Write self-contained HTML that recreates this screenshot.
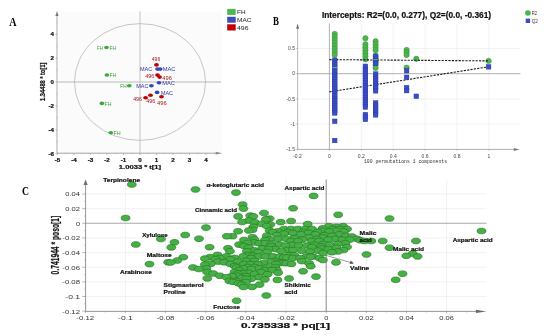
<!DOCTYPE html>
<html><head><meta charset="utf-8"><style>
html,body{margin:0;padding:0;background:#fff;}
body{width:550px;height:336px;overflow:hidden;font-family:"Liberation Sans", sans-serif;}
svg{display:block;filter:blur(0.3px);}
</style></head><body>
<svg width="550" height="336" viewBox="0 0 550 336">
<rect width="550" height="336" fill="#fff"/>
<rect x="59" y="11.5" width="163" height="142" fill="#fbfbfb"/>
<line x1="140.0" y1="11.5" x2="140.0" y2="153" stroke="#cfcfcf" stroke-width="1.3"/>
<line x1="57.5" y1="82.0" x2="221" y2="82.0" stroke="#cfcfcf" stroke-width="1.3"/>
<ellipse cx="140.0" cy="82.0" rx="65.5" ry="58.4" fill="none" stroke="#b8b8b8" stroke-width="0.8"/>
<line x1="57.0" y1="15" x2="57.0" y2="153.6" stroke="#a0a0a0" stroke-width="0.9"/>
<path d="M55.4 16.0 L57.0 11.0 L58.6 16.0 Z" fill="#777"/>
<line x1="57" y1="153.2" x2="217" y2="153.2" stroke="#9a9a9a" stroke-width="0.9"/>
<path d="M215.7 151.8 L222.2 153.2 L215.7 154.6 Z" fill="#8a8a8a"/>
<line x1="55.5" y1="34.2" x2="57.3" y2="34.2" stroke="#999" stroke-width="0.6"/>
<text x="54.0" y="36.4" font-size="6.2" font-weight="bold" fill="#111" text-anchor="end" font-family='"Liberation Sans", sans-serif' stroke="#111" stroke-width="0.22">4</text>
<line x1="55.5" y1="58.1" x2="57.3" y2="58.1" stroke="#999" stroke-width="0.6"/>
<text x="54.0" y="60.3" font-size="6.2" font-weight="bold" fill="#111" text-anchor="end" font-family='"Liberation Sans", sans-serif' stroke="#111" stroke-width="0.22">2</text>
<line x1="55.5" y1="82.0" x2="57.3" y2="82.0" stroke="#999" stroke-width="0.6"/>
<text x="54.0" y="84.2" font-size="6.2" font-weight="bold" fill="#111" text-anchor="end" font-family='"Liberation Sans", sans-serif' stroke="#111" stroke-width="0.22">0</text>
<line x1="55.5" y1="105.9" x2="57.3" y2="105.9" stroke="#999" stroke-width="0.6"/>
<text x="54.0" y="108.1" font-size="6.2" font-weight="bold" fill="#111" text-anchor="end" font-family='"Liberation Sans", sans-serif' stroke="#111" stroke-width="0.22">-2</text>
<line x1="55.5" y1="129.8" x2="57.3" y2="129.8" stroke="#999" stroke-width="0.6"/>
<text x="54.0" y="132.0" font-size="6.2" font-weight="bold" fill="#111" text-anchor="end" font-family='"Liberation Sans", sans-serif' stroke="#111" stroke-width="0.22">-4</text>
<line x1="55.5" y1="153.7" x2="57.3" y2="153.7" stroke="#999" stroke-width="0.6"/>
<text x="54.0" y="155.9" font-size="6.2" font-weight="bold" fill="#111" text-anchor="end" font-family='"Liberation Sans", sans-serif' stroke="#111" stroke-width="0.22">-6</text>
<line x1="56" y1="22.25" x2="57.3" y2="22.25" stroke="#aaa" stroke-width="0.5"/>
<line x1="56" y1="46.15" x2="57.3" y2="46.15" stroke="#aaa" stroke-width="0.5"/>
<line x1="56" y1="70.05" x2="57.3" y2="70.05" stroke="#aaa" stroke-width="0.5"/>
<line x1="56" y1="93.95" x2="57.3" y2="93.95" stroke="#aaa" stroke-width="0.5"/>
<line x1="56" y1="117.85" x2="57.3" y2="117.85" stroke="#aaa" stroke-width="0.5"/>
<line x1="56" y1="141.75" x2="57.3" y2="141.75" stroke="#aaa" stroke-width="0.5"/>
<line x1="57.5" y1="153.4" x2="57.5" y2="155" stroke="#999" stroke-width="0.6"/>
<text x="57.5" y="162.3" font-size="6.2" font-weight="bold" fill="#111" text-anchor="middle" font-family='"Liberation Sans", sans-serif' stroke="#111" stroke-width="0.22">-5</text>
<line x1="74.0" y1="153.4" x2="74.0" y2="155" stroke="#999" stroke-width="0.6"/>
<text x="74.0" y="162.3" font-size="6.2" font-weight="bold" fill="#111" text-anchor="middle" font-family='"Liberation Sans", sans-serif' stroke="#111" stroke-width="0.22">-4</text>
<line x1="90.5" y1="153.4" x2="90.5" y2="155" stroke="#999" stroke-width="0.6"/>
<text x="90.5" y="162.3" font-size="6.2" font-weight="bold" fill="#111" text-anchor="middle" font-family='"Liberation Sans", sans-serif' stroke="#111" stroke-width="0.22">-3</text>
<line x1="107.0" y1="153.4" x2="107.0" y2="155" stroke="#999" stroke-width="0.6"/>
<text x="107.0" y="162.3" font-size="6.2" font-weight="bold" fill="#111" text-anchor="middle" font-family='"Liberation Sans", sans-serif' stroke="#111" stroke-width="0.22">-2</text>
<line x1="123.5" y1="153.4" x2="123.5" y2="155" stroke="#999" stroke-width="0.6"/>
<text x="123.5" y="162.3" font-size="6.2" font-weight="bold" fill="#111" text-anchor="middle" font-family='"Liberation Sans", sans-serif' stroke="#111" stroke-width="0.22">-1</text>
<line x1="140.0" y1="153.4" x2="140.0" y2="155" stroke="#999" stroke-width="0.6"/>
<text x="140.0" y="162.3" font-size="6.2" font-weight="bold" fill="#111" text-anchor="middle" font-family='"Liberation Sans", sans-serif' stroke="#111" stroke-width="0.22">0</text>
<line x1="156.5" y1="153.4" x2="156.5" y2="155" stroke="#999" stroke-width="0.6"/>
<text x="156.5" y="162.3" font-size="6.2" font-weight="bold" fill="#111" text-anchor="middle" font-family='"Liberation Sans", sans-serif' stroke="#111" stroke-width="0.22">1</text>
<line x1="173.0" y1="153.4" x2="173.0" y2="155" stroke="#999" stroke-width="0.6"/>
<text x="173.0" y="162.3" font-size="6.2" font-weight="bold" fill="#111" text-anchor="middle" font-family='"Liberation Sans", sans-serif' stroke="#111" stroke-width="0.22">2</text>
<line x1="189.5" y1="153.4" x2="189.5" y2="155" stroke="#999" stroke-width="0.6"/>
<text x="189.5" y="162.3" font-size="6.2" font-weight="bold" fill="#111" text-anchor="middle" font-family='"Liberation Sans", sans-serif' stroke="#111" stroke-width="0.22">3</text>
<line x1="206.0" y1="153.4" x2="206.0" y2="155" stroke="#999" stroke-width="0.6"/>
<text x="206.0" y="162.3" font-size="6.2" font-weight="bold" fill="#111" text-anchor="middle" font-family='"Liberation Sans", sans-serif' stroke="#111" stroke-width="0.22">4</text>
<line x1="65.75" y1="153.4" x2="65.75" y2="154.5" stroke="#aaa" stroke-width="0.5"/>
<line x1="82.25" y1="153.4" x2="82.25" y2="154.5" stroke="#aaa" stroke-width="0.5"/>
<line x1="98.75" y1="153.4" x2="98.75" y2="154.5" stroke="#aaa" stroke-width="0.5"/>
<line x1="115.25" y1="153.4" x2="115.25" y2="154.5" stroke="#aaa" stroke-width="0.5"/>
<line x1="131.75" y1="153.4" x2="131.75" y2="154.5" stroke="#aaa" stroke-width="0.5"/>
<line x1="148.25" y1="153.4" x2="148.25" y2="154.5" stroke="#aaa" stroke-width="0.5"/>
<line x1="164.75" y1="153.4" x2="164.75" y2="154.5" stroke="#aaa" stroke-width="0.5"/>
<line x1="181.25" y1="153.4" x2="181.25" y2="154.5" stroke="#aaa" stroke-width="0.5"/>
<line x1="197.75" y1="153.4" x2="197.75" y2="154.5" stroke="#aaa" stroke-width="0.5"/>
<line x1="214.25" y1="153.4" x2="214.25" y2="154.5" stroke="#aaa" stroke-width="0.5"/>
<text x="140" y="169.2" font-size="5.8" font-weight="bold" fill="#111" text-anchor="middle" font-family='"Liberation Sans", sans-serif' textLength="42.3" lengthAdjust="spacingAndGlyphs" stroke="#111" stroke-width="0.22">1.0033 * t[1]</text>
<text x="44.8" y="81.7" font-size="6.8" font-weight="bold" fill="#111" text-anchor="middle" font-family='"Liberation Sans", sans-serif' textLength="38.4" lengthAdjust="spacingAndGlyphs" transform="rotate(-90 44.8 81.7)" stroke="#111" stroke-width="0.22">1.34488 * to[1]</text>
<ellipse cx="106.50" cy="47.50" rx="2.4" ry="1.8" fill="#3daa3d"/>
<text x="102.8" y="49.7" font-size="5.2" font-weight="normal" fill="#3a9a3a" text-anchor="end" font-family='"Liberation Sans", sans-serif' textLength="5.8" lengthAdjust="spacingAndGlyphs">FH</text>
<text x="109.6" y="49.7" font-size="5.2" font-weight="normal" fill="#3a9a3a" text-anchor="start" font-family='"Liberation Sans", sans-serif' textLength="6.6" lengthAdjust="spacingAndGlyphs">FH</text>
<ellipse cx="106.90" cy="75.00" rx="2.4" ry="1.8" fill="#3daa3d"/>
<text x="109.8" y="77.2" font-size="5.2" font-weight="normal" fill="#3a9a3a" text-anchor="start" font-family='"Liberation Sans", sans-serif' textLength="6.3" lengthAdjust="spacingAndGlyphs">FH</text>
<ellipse cx="129.30" cy="85.70" rx="2.4" ry="1.8" fill="#3daa3d"/>
<text x="126.6" y="87.9" font-size="5.2" font-weight="normal" fill="#3a9a3a" text-anchor="end" font-family='"Liberation Sans", sans-serif' textLength="6.3" lengthAdjust="spacingAndGlyphs">FH</text>
<ellipse cx="101.90" cy="103.40" rx="2.4" ry="1.8" fill="#3daa3d"/>
<text x="104.6" y="105.6" font-size="5.2" font-weight="normal" fill="#3a9a3a" text-anchor="start" font-family='"Liberation Sans", sans-serif' textLength="6.9" lengthAdjust="spacingAndGlyphs">FH</text>
<ellipse cx="110.80" cy="132.70" rx="2.4" ry="1.8" fill="#3daa3d"/>
<text x="113.5" y="134.9" font-size="5.2" font-weight="normal" fill="#3a9a3a" text-anchor="start" font-family='"Liberation Sans", sans-serif' textLength="7.2" lengthAdjust="spacingAndGlyphs">FH</text>
<ellipse cx="156.50" cy="64.90" rx="2.4" ry="1.8" fill="#c00000"/>
<text x="156" y="61.3" font-size="5.2" font-weight="normal" fill="#a01818" text-anchor="middle" font-family='"Liberation Sans", sans-serif' textLength="8.4" lengthAdjust="spacingAndGlyphs">496</text>
<ellipse cx="157.50" cy="69.10" rx="2.4" ry="1.8" fill="#3347b8"/>
<ellipse cx="160.20" cy="69.10" rx="2.4" ry="1.8" fill="#3347b8"/>
<text x="152.3" y="71.3" font-size="5.2" font-weight="normal" fill="#2b3a9a" text-anchor="end" font-family='"Liberation Sans", sans-serif' textLength="12.3" lengthAdjust="spacingAndGlyphs">MAC</text>
<text x="162.7" y="71.3" font-size="5.2" font-weight="normal" fill="#2b3a9a" text-anchor="start" font-family='"Liberation Sans", sans-serif' textLength="12.8" lengthAdjust="spacingAndGlyphs">MAC</text>
<ellipse cx="157.50" cy="75.10" rx="2.4" ry="1.8" fill="#c00000"/>
<ellipse cx="159.60" cy="77.10" rx="2.4" ry="1.8" fill="#c00000"/>
<text x="154.3" y="78.0" font-size="5.2" font-weight="normal" fill="#a01818" text-anchor="end" font-family='"Liberation Sans", sans-serif' textLength="9.0" lengthAdjust="spacingAndGlyphs">496</text>
<text x="162.3" y="79.7" font-size="5.2" font-weight="normal" fill="#a01818" text-anchor="start" font-family='"Liberation Sans", sans-serif' textLength="9.5" lengthAdjust="spacingAndGlyphs">496</text>
<ellipse cx="159.00" cy="82.70" rx="2.4" ry="1.8" fill="#3347b8"/>
<text x="162.2" y="85.0" font-size="5.2" font-weight="normal" fill="#2b3a9a" text-anchor="start" font-family='"Liberation Sans", sans-serif' textLength="12.7" lengthAdjust="spacingAndGlyphs">MAC</text>
<ellipse cx="151.40" cy="85.70" rx="2.4" ry="1.8" fill="#3347b8"/>
<text x="148.4" y="87.9" font-size="5.2" font-weight="normal" fill="#2b3a9a" text-anchor="end" font-family='"Liberation Sans", sans-serif' textLength="12.2" lengthAdjust="spacingAndGlyphs">MAC</text>
<ellipse cx="157.10" cy="92.40" rx="2.4" ry="1.8" fill="#3347b8"/>
<text x="160.9" y="94.6" font-size="5.2" font-weight="normal" fill="#2b3a9a" text-anchor="start" font-family='"Liberation Sans", sans-serif' textLength="12.1" lengthAdjust="spacingAndGlyphs">MAC</text>
<ellipse cx="150.50" cy="95.20" rx="2.4" ry="1.8" fill="#c00000"/>
<ellipse cx="145.60" cy="97.80" rx="2.4" ry="1.8" fill="#c00000"/>
<text x="142" y="100.6" font-size="5.2" font-weight="normal" fill="#a01818" text-anchor="end" font-family='"Liberation Sans", sans-serif' textLength="8.8" lengthAdjust="spacingAndGlyphs">496</text>
<text x="150.7" y="103.1" font-size="5.2" font-weight="normal" fill="#a01818" text-anchor="middle" font-family='"Liberation Sans", sans-serif' textLength="8.9" lengthAdjust="spacingAndGlyphs">496</text>
<ellipse cx="161.50" cy="96.70" rx="2.4" ry="1.8" fill="#c00000"/>
<text x="161.8" y="104.7" font-size="5.2" font-weight="normal" fill="#a01818" text-anchor="middle" font-family='"Liberation Sans", sans-serif' textLength="9.6" lengthAdjust="spacingAndGlyphs">496</text>
<rect x="227.2" y="8.9" width="8.5" height="6.0" fill="#4bb84b"/>
<rect x="227.2" y="16.8" width="8.5" height="5.9" fill="#3a4cc0"/>
<rect x="227.2" y="24.3" width="8.5" height="6.2" fill="#c00000"/>
<text x="237" y="14.3" font-size="5.8" font-weight="normal" fill="#222" text-anchor="start" font-family='"Liberation Sans", sans-serif' textLength="8.5" lengthAdjust="spacingAndGlyphs">FH</text>
<text x="237" y="22.2" font-size="5.8" font-weight="normal" fill="#222" text-anchor="start" font-family='"Liberation Sans", sans-serif' textLength="14.5" lengthAdjust="spacingAndGlyphs">MAC</text>
<text x="237" y="29.8" font-size="5.8" font-weight="normal" fill="#222" text-anchor="start" font-family='"Liberation Sans", sans-serif' textLength="11.5" lengthAdjust="spacingAndGlyphs">496</text>
<text x="9.3" y="25.5" font-size="11.8" font-weight="bold" fill="#000" text-anchor="start" font-family='"Liberation Serif", serif' textLength="7.3" lengthAdjust="spacingAndGlyphs">A</text>
<line x1="361.3" y1="23.5" x2="361.3" y2="149.2" stroke="#ececec" stroke-width="0.7"/>
<line x1="393.2" y1="23.5" x2="393.2" y2="149.2" stroke="#ececec" stroke-width="0.7"/>
<line x1="425.1" y1="23.5" x2="425.1" y2="149.2" stroke="#ececec" stroke-width="0.7"/>
<line x1="457.0" y1="23.5" x2="457.0" y2="149.2" stroke="#ececec" stroke-width="0.7"/>
<line x1="488.9" y1="23.5" x2="488.9" y2="149.2" stroke="#ececec" stroke-width="0.7"/>
<line x1="297.5" y1="48.5" x2="520.5" y2="48.5" stroke="#ececec" stroke-width="0.7"/>
<line x1="297.5" y1="98.9" x2="520.5" y2="98.9" stroke="#ececec" stroke-width="0.7"/>
<line x1="297.5" y1="124.1" x2="520.5" y2="124.1" stroke="#ececec" stroke-width="0.7"/>
<line x1="329.4" y1="23.5" x2="329.4" y2="149.2" stroke="#a8a8a8" stroke-width="0.9"/>
<line x1="297.5" y1="73.7" x2="520.5" y2="73.7" stroke="#a8a8a8" stroke-width="0.9"/>
<line x1="297.6" y1="28" x2="297.6" y2="149.4" stroke="#a5a5a5" stroke-width="0.8"/>
<path d="M296.1 28.7 L297.6 23.4 L299.1 28.7 Z" fill="#6f6f6f"/>
<line x1="297.5" y1="149.4" x2="514" y2="149.4" stroke="#999" stroke-width="0.8"/>
<path d="M513.8 147.9 L519.6 149.4 L513.8 150.9 Z" fill="#7a7a7a"/>
<line x1="295.8" y1="48.5" x2="297.5" y2="48.5" stroke="#999" stroke-width="0.5"/>
<text x="295.0" y="50.2" font-size="5.0" font-weight="normal" fill="#444" text-anchor="end" font-family='"Liberation Sans", sans-serif'>0.5</text>
<line x1="295.8" y1="73.7" x2="297.5" y2="73.7" stroke="#999" stroke-width="0.5"/>
<text x="295.0" y="75.4" font-size="5.0" font-weight="normal" fill="#444" text-anchor="end" font-family='"Liberation Sans", sans-serif'>0</text>
<line x1="295.8" y1="98.9" x2="297.5" y2="98.9" stroke="#999" stroke-width="0.5"/>
<text x="295.0" y="100.6" font-size="5.0" font-weight="normal" fill="#444" text-anchor="end" font-family='"Liberation Sans", sans-serif'>-0.5</text>
<line x1="295.8" y1="124.1" x2="297.5" y2="124.1" stroke="#999" stroke-width="0.5"/>
<text x="295.0" y="125.8" font-size="5.0" font-weight="normal" fill="#444" text-anchor="end" font-family='"Liberation Sans", sans-serif'>-1</text>
<line x1="295.8" y1="149.3" x2="297.5" y2="149.3" stroke="#999" stroke-width="0.5"/>
<text x="295.0" y="151.0" font-size="5.0" font-weight="normal" fill="#444" text-anchor="end" font-family='"Liberation Sans", sans-serif'>-1.5</text>
<line x1="297.5" y1="149.2" x2="297.5" y2="150.8" stroke="#999" stroke-width="0.5"/>
<text x="297.5" y="157.6" font-size="5.0" font-weight="normal" fill="#444" text-anchor="middle" font-family='"Liberation Sans", sans-serif'>-0.2</text>
<line x1="329.4" y1="149.2" x2="329.4" y2="150.8" stroke="#999" stroke-width="0.5"/>
<text x="329.4" y="157.6" font-size="5.0" font-weight="normal" fill="#444" text-anchor="middle" font-family='"Liberation Sans", sans-serif'>0</text>
<line x1="361.3" y1="149.2" x2="361.3" y2="150.8" stroke="#999" stroke-width="0.5"/>
<text x="361.3" y="157.6" font-size="5.0" font-weight="normal" fill="#444" text-anchor="middle" font-family='"Liberation Sans", sans-serif'>0.2</text>
<line x1="393.2" y1="149.2" x2="393.2" y2="150.8" stroke="#999" stroke-width="0.5"/>
<text x="393.2" y="157.6" font-size="5.0" font-weight="normal" fill="#444" text-anchor="middle" font-family='"Liberation Sans", sans-serif'>0.4</text>
<line x1="425.1" y1="149.2" x2="425.1" y2="150.8" stroke="#999" stroke-width="0.5"/>
<text x="425.1" y="157.6" font-size="5.0" font-weight="normal" fill="#444" text-anchor="middle" font-family='"Liberation Sans", sans-serif'>0.6</text>
<line x1="457.0" y1="149.2" x2="457.0" y2="150.8" stroke="#999" stroke-width="0.5"/>
<text x="457.0" y="157.6" font-size="5.0" font-weight="normal" fill="#444" text-anchor="middle" font-family='"Liberation Sans", sans-serif'>0.8</text>
<line x1="488.9" y1="149.2" x2="488.9" y2="150.8" stroke="#999" stroke-width="0.5"/>
<text x="488.9" y="157.6" font-size="5.0" font-weight="normal" fill="#444" text-anchor="middle" font-family='"Liberation Sans", sans-serif'>1</text>
<text x="405.5" y="162.7" font-size="5.4" font-weight="normal" fill="#333" text-anchor="middle" font-family='"Liberation Mono", monospace' textLength="83" lengthAdjust="spacingAndGlyphs">100 permutations 1 components</text>
<text x="321.9" y="17.6" font-size="8.6" font-weight="bold" fill="#111" text-anchor="start" font-family='"Liberation Sans", sans-serif' textLength="169.2" lengthAdjust="spacingAndGlyphs" stroke="#111" stroke-width="0.22">Intercepts: R2=(0.0, 0.277), Q2=(0.0, -0.361)</text>
<circle cx="527.9" cy="13" r="2.8" fill="#4cb44c"/>
<rect x="525.7" y="18.6" width="4.4" height="4.4" fill="#3a4dc4"/>
<text x="531.7" y="14.8" font-size="4.9" font-weight="normal" fill="#333" text-anchor="start" font-family='"Liberation Sans", sans-serif' textLength="5.4" lengthAdjust="spacingAndGlyphs">R2</text>
<text x="531.7" y="22.6" font-size="4.9" font-weight="normal" fill="#333" text-anchor="start" font-family='"Liberation Sans", sans-serif' textLength="6.2" lengthAdjust="spacingAndGlyphs">Q2</text>
<text x="273.1" y="25.1" font-size="12.2" font-weight="bold" fill="#000" text-anchor="start" font-family='"Liberation Serif", serif' textLength="5.9" lengthAdjust="spacingAndGlyphs">B</text>
<circle cx="334.70" cy="33.90" r="2.7" fill="#4cb44c" stroke="#3a903a" stroke-width="0.45"/>
<circle cx="334.70" cy="36.90" r="2.7" fill="#4cb44c" stroke="#3a903a" stroke-width="0.45"/>
<circle cx="334.70" cy="39.90" r="2.7" fill="#4cb44c" stroke="#3a903a" stroke-width="0.45"/>
<circle cx="334.70" cy="42.90" r="2.7" fill="#4cb44c" stroke="#3a903a" stroke-width="0.45"/>
<circle cx="334.70" cy="45.90" r="2.7" fill="#4cb44c" stroke="#3a903a" stroke-width="0.45"/>
<circle cx="334.70" cy="48.90" r="2.7" fill="#4cb44c" stroke="#3a903a" stroke-width="0.45"/>
<circle cx="334.70" cy="51.90" r="2.7" fill="#4cb44c" stroke="#3a903a" stroke-width="0.45"/>
<circle cx="334.70" cy="54.90" r="2.7" fill="#4cb44c" stroke="#3a903a" stroke-width="0.45"/>
<circle cx="365.40" cy="38.30" r="2.7" fill="#4cb44c" stroke="#3a903a" stroke-width="0.45"/>
<circle cx="365.40" cy="44.30" r="2.7" fill="#4cb44c" stroke="#3a903a" stroke-width="0.45"/>
<circle cx="365.40" cy="47.30" r="2.7" fill="#4cb44c" stroke="#3a903a" stroke-width="0.45"/>
<circle cx="365.40" cy="50.30" r="2.7" fill="#4cb44c" stroke="#3a903a" stroke-width="0.45"/>
<circle cx="365.40" cy="53.30" r="2.7" fill="#4cb44c" stroke="#3a903a" stroke-width="0.45"/>
<circle cx="365.40" cy="56.30" r="2.7" fill="#4cb44c" stroke="#3a903a" stroke-width="0.45"/>
<circle cx="365.40" cy="59.30" r="2.7" fill="#4cb44c" stroke="#3a903a" stroke-width="0.45"/>
<circle cx="375.60" cy="41.20" r="2.7" fill="#4cb44c" stroke="#3a903a" stroke-width="0.45"/>
<circle cx="375.60" cy="44.20" r="2.7" fill="#4cb44c" stroke="#3a903a" stroke-width="0.45"/>
<circle cx="375.60" cy="47.20" r="2.7" fill="#4cb44c" stroke="#3a903a" stroke-width="0.45"/>
<circle cx="375.60" cy="50.20" r="2.7" fill="#4cb44c" stroke="#3a903a" stroke-width="0.45"/>
<circle cx="375.60" cy="56.00" r="2.7" fill="#4cb44c" stroke="#3a903a" stroke-width="0.45"/>
<circle cx="375.60" cy="59.00" r="2.7" fill="#4cb44c" stroke="#3a903a" stroke-width="0.45"/>
<circle cx="375.60" cy="62.00" r="2.7" fill="#4cb44c" stroke="#3a903a" stroke-width="0.45"/>
<circle cx="375.60" cy="65.00" r="2.7" fill="#4cb44c" stroke="#3a903a" stroke-width="0.45"/>
<circle cx="375.60" cy="68.00" r="2.7" fill="#4cb44c" stroke="#3a903a" stroke-width="0.45"/>
<circle cx="406.60" cy="49.90" r="2.7" fill="#4cb44c" stroke="#3a903a" stroke-width="0.45"/>
<circle cx="406.60" cy="52.40" r="2.7" fill="#4cb44c" stroke="#3a903a" stroke-width="0.45"/>
<circle cx="406.60" cy="55.00" r="2.7" fill="#4cb44c" stroke="#3a903a" stroke-width="0.45"/>
<circle cx="406.60" cy="67.60" r="2.7" fill="#4cb44c" stroke="#3a903a" stroke-width="0.45"/>
<circle cx="416.30" cy="58.80" r="2.7" fill="#4cb44c" stroke="#3a903a" stroke-width="0.45"/>
<circle cx="488.60" cy="60.90" r="2.7" fill="#4cb44c" stroke="#3a903a" stroke-width="0.45"/>
<line x1="329.4" y1="59.6" x2="488.6" y2="60.9" stroke="#1a1a1a" stroke-width="1.1" stroke-dasharray="2.2 1.2"/>
<line x1="329.4" y1="91.9" x2="488.6" y2="66.8" stroke="#1a1a1a" stroke-width="1.1" stroke-dasharray="2.2 1.2"/>
<rect x="332.35" y="57.85" width="4.7" height="4.7" fill="#3a4dc4" stroke="#2636a0" stroke-width="0.35"/>
<rect x="332.35" y="60.25" width="4.7" height="4.7" fill="#3a4dc4" stroke="#2636a0" stroke-width="0.35"/>
<rect x="332.35" y="62.65" width="4.7" height="4.7" fill="#3a4dc4" stroke="#2636a0" stroke-width="0.35"/>
<rect x="332.35" y="65.05" width="4.7" height="4.7" fill="#3a4dc4" stroke="#2636a0" stroke-width="0.35"/>
<rect x="332.35" y="67.45" width="4.7" height="4.7" fill="#3a4dc4" stroke="#2636a0" stroke-width="0.35"/>
<rect x="332.35" y="69.85" width="4.7" height="4.7" fill="#3a4dc4" stroke="#2636a0" stroke-width="0.35"/>
<rect x="332.35" y="72.25" width="4.7" height="4.7" fill="#3a4dc4" stroke="#2636a0" stroke-width="0.35"/>
<rect x="332.35" y="74.65" width="4.7" height="4.7" fill="#3a4dc4" stroke="#2636a0" stroke-width="0.35"/>
<rect x="332.35" y="77.05" width="4.7" height="4.7" fill="#3a4dc4" stroke="#2636a0" stroke-width="0.35"/>
<rect x="332.35" y="79.45" width="4.7" height="4.7" fill="#3a4dc4" stroke="#2636a0" stroke-width="0.35"/>
<rect x="332.35" y="81.85" width="4.7" height="4.7" fill="#3a4dc4" stroke="#2636a0" stroke-width="0.35"/>
<rect x="332.35" y="84.25" width="4.7" height="4.7" fill="#3a4dc4" stroke="#2636a0" stroke-width="0.35"/>
<rect x="332.35" y="86.65" width="4.7" height="4.7" fill="#3a4dc4" stroke="#2636a0" stroke-width="0.35"/>
<rect x="332.35" y="89.05" width="4.7" height="4.7" fill="#3a4dc4" stroke="#2636a0" stroke-width="0.35"/>
<rect x="332.35" y="91.45" width="4.7" height="4.7" fill="#3a4dc4" stroke="#2636a0" stroke-width="0.35"/>
<rect x="332.35" y="93.85" width="4.7" height="4.7" fill="#3a4dc4" stroke="#2636a0" stroke-width="0.35"/>
<rect x="332.35" y="96.25" width="4.7" height="4.7" fill="#3a4dc4" stroke="#2636a0" stroke-width="0.35"/>
<rect x="332.35" y="98.65" width="4.7" height="4.7" fill="#3a4dc4" stroke="#2636a0" stroke-width="0.35"/>
<rect x="332.35" y="101.05" width="4.7" height="4.7" fill="#3a4dc4" stroke="#2636a0" stroke-width="0.35"/>
<rect x="332.35" y="103.45" width="4.7" height="4.7" fill="#3a4dc4" stroke="#2636a0" stroke-width="0.35"/>
<rect x="332.35" y="105.85" width="4.7" height="4.7" fill="#3a4dc4" stroke="#2636a0" stroke-width="0.35"/>
<rect x="332.35" y="108.25" width="4.7" height="4.7" fill="#3a4dc4" stroke="#2636a0" stroke-width="0.35"/>
<rect x="332.35" y="110.65" width="4.7" height="4.7" fill="#3a4dc4" stroke="#2636a0" stroke-width="0.35"/>
<rect x="332.34999999999997" y="67.0" width="4.7" height="1.1" fill="#4cb44c"/>
<rect x="332.35" y="118.95" width="4.7" height="4.7" fill="#3a4dc4" stroke="#2636a0" stroke-width="0.35"/>
<rect x="332.35" y="138.15" width="4.7" height="4.7" fill="#3a4dc4" stroke="#2636a0" stroke-width="0.35"/>
<rect x="363.05" y="63.95" width="4.7" height="4.7" fill="#3a4dc4" stroke="#2636a0" stroke-width="0.35"/>
<rect x="363.05" y="66.35" width="4.7" height="4.7" fill="#3a4dc4" stroke="#2636a0" stroke-width="0.35"/>
<rect x="363.05" y="68.75" width="4.7" height="4.7" fill="#3a4dc4" stroke="#2636a0" stroke-width="0.35"/>
<rect x="363.05" y="71.15" width="4.7" height="4.7" fill="#3a4dc4" stroke="#2636a0" stroke-width="0.35"/>
<rect x="363.05" y="73.55" width="4.7" height="4.7" fill="#3a4dc4" stroke="#2636a0" stroke-width="0.35"/>
<rect x="363.05" y="75.95" width="4.7" height="4.7" fill="#3a4dc4" stroke="#2636a0" stroke-width="0.35"/>
<rect x="363.05" y="78.35" width="4.7" height="4.7" fill="#3a4dc4" stroke="#2636a0" stroke-width="0.35"/>
<rect x="363.05" y="80.75" width="4.7" height="4.7" fill="#3a4dc4" stroke="#2636a0" stroke-width="0.35"/>
<rect x="363.05" y="83.15" width="4.7" height="4.7" fill="#3a4dc4" stroke="#2636a0" stroke-width="0.35"/>
<rect x="363.05" y="85.55" width="4.7" height="4.7" fill="#3a4dc4" stroke="#2636a0" stroke-width="0.35"/>
<rect x="363.05" y="87.95" width="4.7" height="4.7" fill="#3a4dc4" stroke="#2636a0" stroke-width="0.35"/>
<rect x="363.05" y="90.35" width="4.7" height="4.7" fill="#3a4dc4" stroke="#2636a0" stroke-width="0.35"/>
<rect x="363.05" y="92.75" width="4.7" height="4.7" fill="#3a4dc4" stroke="#2636a0" stroke-width="0.35"/>
<rect x="363.05" y="95.15" width="4.7" height="4.7" fill="#3a4dc4" stroke="#2636a0" stroke-width="0.35"/>
<rect x="363.05" y="97.55" width="4.7" height="4.7" fill="#3a4dc4" stroke="#2636a0" stroke-width="0.35"/>
<rect x="363.05" y="99.95" width="4.7" height="4.7" fill="#3a4dc4" stroke="#2636a0" stroke-width="0.35"/>
<rect x="363.05" y="102.35" width="4.7" height="4.7" fill="#3a4dc4" stroke="#2636a0" stroke-width="0.35"/>
<rect x="363.05" y="104.75" width="4.7" height="4.7" fill="#3a4dc4" stroke="#2636a0" stroke-width="0.35"/>
<rect x="363.05" y="112.25" width="4.7" height="4.7" fill="#3a4dc4" stroke="#2636a0" stroke-width="0.35"/>
<rect x="363.05" y="114.65" width="4.7" height="4.7" fill="#3a4dc4" stroke="#2636a0" stroke-width="0.35"/>
<rect x="363.05" y="117.05" width="4.7" height="4.7" fill="#3a4dc4" stroke="#2636a0" stroke-width="0.35"/>
<rect x="373.25" y="53.85" width="4.7" height="4.7" fill="#3a4dc4" stroke="#2636a0" stroke-width="0.35"/>
<rect x="373.25" y="56.25" width="4.7" height="4.7" fill="#3a4dc4" stroke="#2636a0" stroke-width="0.35"/>
<rect x="373.25" y="58.65" width="4.7" height="4.7" fill="#3a4dc4" stroke="#2636a0" stroke-width="0.35"/>
<rect x="373.25" y="61.05" width="4.7" height="4.7" fill="#3a4dc4" stroke="#2636a0" stroke-width="0.35"/>
<rect x="373.25" y="71.65" width="4.7" height="4.7" fill="#3a4dc4" stroke="#2636a0" stroke-width="0.35"/>
<rect x="373.25" y="74.05" width="4.7" height="4.7" fill="#3a4dc4" stroke="#2636a0" stroke-width="0.35"/>
<rect x="373.25" y="76.45" width="4.7" height="4.7" fill="#3a4dc4" stroke="#2636a0" stroke-width="0.35"/>
<rect x="373.25" y="78.85" width="4.7" height="4.7" fill="#3a4dc4" stroke="#2636a0" stroke-width="0.35"/>
<rect x="373.25" y="81.25" width="4.7" height="4.7" fill="#3a4dc4" stroke="#2636a0" stroke-width="0.35"/>
<rect x="373.25" y="83.65" width="4.7" height="4.7" fill="#3a4dc4" stroke="#2636a0" stroke-width="0.35"/>
<rect x="373.25" y="86.05" width="4.7" height="4.7" fill="#3a4dc4" stroke="#2636a0" stroke-width="0.35"/>
<rect x="373.25" y="88.45" width="4.7" height="4.7" fill="#3a4dc4" stroke="#2636a0" stroke-width="0.35"/>
<rect x="373.25" y="100.55" width="4.7" height="4.7" fill="#3a4dc4" stroke="#2636a0" stroke-width="0.35"/>
<rect x="373.25" y="102.95" width="4.7" height="4.7" fill="#3a4dc4" stroke="#2636a0" stroke-width="0.35"/>
<rect x="373.25" y="105.35" width="4.7" height="4.7" fill="#3a4dc4" stroke="#2636a0" stroke-width="0.35"/>
<rect x="373.25" y="107.75" width="4.7" height="4.7" fill="#3a4dc4" stroke="#2636a0" stroke-width="0.35"/>
<rect x="373.25" y="110.15" width="4.7" height="4.7" fill="#3a4dc4" stroke="#2636a0" stroke-width="0.35"/>
<rect x="373.25" y="112.55" width="4.7" height="4.7" fill="#3a4dc4" stroke="#2636a0" stroke-width="0.35"/>
<rect x="373.25" y="59.0" width="4.7" height="1.0" fill="#4cb44c"/>
<rect x="404.25" y="68.35" width="4.7" height="4.7" fill="#3a4dc4" stroke="#2636a0" stroke-width="0.35"/>
<rect x="404.25" y="74.95" width="4.7" height="4.7" fill="#3a4dc4" stroke="#2636a0" stroke-width="0.35"/>
<rect x="404.25" y="85.25" width="4.7" height="4.7" fill="#3a4dc4" stroke="#2636a0" stroke-width="0.35"/>
<rect x="404.25" y="88.25" width="4.7" height="4.7" fill="#3a4dc4" stroke="#2636a0" stroke-width="0.35"/>
<rect x="413.95" y="93.95" width="4.7" height="4.7" fill="#3a4dc4" stroke="#2636a0" stroke-width="0.35"/>
<rect x="486.25" y="64.45" width="4.7" height="4.7" fill="#3a4dc4" stroke="#2636a0" stroke-width="0.35"/>
<line x1="125.4" y1="179" x2="125.4" y2="311.3" stroke="#ececec" stroke-width="0.7"/>
<line x1="165.56" y1="179" x2="165.56" y2="311.3" stroke="#ececec" stroke-width="0.7"/>
<line x1="205.72" y1="179" x2="205.72" y2="311.3" stroke="#ececec" stroke-width="0.7"/>
<line x1="245.88" y1="179" x2="245.88" y2="311.3" stroke="#ececec" stroke-width="0.7"/>
<line x1="286.04" y1="179" x2="286.04" y2="311.3" stroke="#ececec" stroke-width="0.7"/>
<line x1="366.36" y1="179" x2="366.36" y2="311.3" stroke="#ececec" stroke-width="0.7"/>
<line x1="406.52" y1="179" x2="406.52" y2="311.3" stroke="#ececec" stroke-width="0.7"/>
<line x1="446.68" y1="179" x2="446.68" y2="311.3" stroke="#ececec" stroke-width="0.7"/>
<line x1="85.6" y1="194.02" x2="486.5" y2="194.02" stroke="#ececec" stroke-width="0.7"/>
<line x1="85.6" y1="208.66" x2="486.5" y2="208.66" stroke="#ececec" stroke-width="0.7"/>
<line x1="85.6" y1="237.94" x2="486.5" y2="237.94" stroke="#ececec" stroke-width="0.7"/>
<line x1="85.6" y1="252.58" x2="486.5" y2="252.58" stroke="#ececec" stroke-width="0.7"/>
<line x1="85.6" y1="267.22" x2="486.5" y2="267.22" stroke="#ececec" stroke-width="0.7"/>
<line x1="85.6" y1="281.86" x2="486.5" y2="281.86" stroke="#ececec" stroke-width="0.7"/>
<line x1="85.6" y1="296.5" x2="486.5" y2="296.5" stroke="#ececec" stroke-width="0.7"/>
<line x1="326.2" y1="179.5" x2="326.2" y2="311.3" stroke="#8c8c8c" stroke-width="1.0"/>
<line x1="85.8" y1="223.3" x2="486.5" y2="223.3" stroke="#a8a8a8" stroke-width="1.1"/>
<line x1="85.6" y1="184" x2="85.6" y2="311.6" stroke="#8a8a8a" stroke-width="0.9"/>
<path d="M83.5 185.0 L85.6 179.4 L87.7 185.0 Z" fill="#707070"/>
<line x1="85.6" y1="311.4" x2="477" y2="311.4" stroke="#8a8a8a" stroke-width="0.9"/>
<path d="M475.9 309.8 L486.3 311.4 L475.9 313.0 Z" fill="#6a6a6a"/>
<line x1="82.3" y1="194.02" x2="85.8" y2="194.02" stroke="#888" stroke-width="0.6"/>
<text x="80" y="196.42" font-size="5.8" font-weight="normal" fill="#333" text-anchor="end" font-family='"Liberation Sans", sans-serif' textLength="14.7" lengthAdjust="spacingAndGlyphs">0.04</text>
<line x1="82.3" y1="208.66" x2="85.8" y2="208.66" stroke="#888" stroke-width="0.6"/>
<text x="80" y="211.06" font-size="5.8" font-weight="normal" fill="#333" text-anchor="end" font-family='"Liberation Sans", sans-serif' textLength="14.7" lengthAdjust="spacingAndGlyphs">0.02</text>
<line x1="82.3" y1="223.3" x2="85.8" y2="223.3" stroke="#888" stroke-width="0.6"/>
<text x="80" y="225.7" font-size="5.8" font-weight="normal" fill="#333" text-anchor="end" font-family='"Liberation Sans", sans-serif' textLength="4.1" lengthAdjust="spacingAndGlyphs">0</text>
<line x1="82.3" y1="237.94" x2="85.8" y2="237.94" stroke="#888" stroke-width="0.6"/>
<text x="80" y="240.34" font-size="5.8" font-weight="normal" fill="#333" text-anchor="end" font-family='"Liberation Sans", sans-serif' textLength="17.7" lengthAdjust="spacingAndGlyphs">-0.02</text>
<line x1="82.3" y1="252.58" x2="85.8" y2="252.58" stroke="#888" stroke-width="0.6"/>
<text x="80" y="254.98" font-size="5.8" font-weight="normal" fill="#333" text-anchor="end" font-family='"Liberation Sans", sans-serif' textLength="17.7" lengthAdjust="spacingAndGlyphs">-0.04</text>
<line x1="82.3" y1="267.22" x2="85.8" y2="267.22" stroke="#888" stroke-width="0.6"/>
<text x="80" y="269.62" font-size="5.8" font-weight="normal" fill="#333" text-anchor="end" font-family='"Liberation Sans", sans-serif' textLength="17.7" lengthAdjust="spacingAndGlyphs">-0.06</text>
<line x1="82.3" y1="281.86" x2="85.8" y2="281.86" stroke="#888" stroke-width="0.6"/>
<text x="80" y="284.26" font-size="5.8" font-weight="normal" fill="#333" text-anchor="end" font-family='"Liberation Sans", sans-serif' textLength="17.7" lengthAdjust="spacingAndGlyphs">-0.08</text>
<line x1="82.3" y1="296.5" x2="85.8" y2="296.5" stroke="#888" stroke-width="0.6"/>
<text x="80" y="298.9" font-size="5.8" font-weight="normal" fill="#333" text-anchor="end" font-family='"Liberation Sans", sans-serif' textLength="14.7" lengthAdjust="spacingAndGlyphs">-0.1</text>
<line x1="82.3" y1="311.14" x2="85.8" y2="311.14" stroke="#888" stroke-width="0.6"/>
<text x="80" y="313.54" font-size="5.8" font-weight="normal" fill="#333" text-anchor="end" font-family='"Liberation Sans", sans-serif' textLength="17.7" lengthAdjust="spacingAndGlyphs">-0.12</text>
<line x1="84" y1="201.34" x2="85.8" y2="201.34" stroke="#999" stroke-width="0.5"/>
<line x1="84" y1="215.98" x2="85.8" y2="215.98" stroke="#999" stroke-width="0.5"/>
<line x1="84" y1="230.62" x2="85.8" y2="230.62" stroke="#999" stroke-width="0.5"/>
<line x1="84" y1="245.26" x2="85.8" y2="245.26" stroke="#999" stroke-width="0.5"/>
<line x1="84" y1="259.9" x2="85.8" y2="259.9" stroke="#999" stroke-width="0.5"/>
<line x1="84" y1="274.54" x2="85.8" y2="274.54" stroke="#999" stroke-width="0.5"/>
<line x1="84" y1="289.18" x2="85.8" y2="289.18" stroke="#999" stroke-width="0.5"/>
<line x1="84" y1="303.82" x2="85.8" y2="303.82" stroke="#999" stroke-width="0.5"/>
<line x1="85.24" y1="311.4" x2="85.24" y2="313.2" stroke="#888" stroke-width="0.6"/>
<text x="85.24" y="320.0" font-size="5.6" font-weight="normal" fill="#333" text-anchor="middle" font-family='"Liberation Sans", sans-serif' textLength="17.7" lengthAdjust="spacingAndGlyphs">-0.12</text>
<line x1="125.4" y1="311.4" x2="125.4" y2="313.2" stroke="#888" stroke-width="0.6"/>
<text x="125.4" y="320.0" font-size="5.6" font-weight="normal" fill="#333" text-anchor="middle" font-family='"Liberation Sans", sans-serif' textLength="14.7" lengthAdjust="spacingAndGlyphs">-0.1</text>
<line x1="165.56" y1="311.4" x2="165.56" y2="313.2" stroke="#888" stroke-width="0.6"/>
<text x="165.56" y="320.0" font-size="5.6" font-weight="normal" fill="#333" text-anchor="middle" font-family='"Liberation Sans", sans-serif' textLength="17.7" lengthAdjust="spacingAndGlyphs">-0.08</text>
<line x1="205.72" y1="311.4" x2="205.72" y2="313.2" stroke="#888" stroke-width="0.6"/>
<text x="205.72" y="320.0" font-size="5.6" font-weight="normal" fill="#333" text-anchor="middle" font-family='"Liberation Sans", sans-serif' textLength="17.7" lengthAdjust="spacingAndGlyphs">-0.06</text>
<line x1="245.88" y1="311.4" x2="245.88" y2="313.2" stroke="#888" stroke-width="0.6"/>
<text x="245.88" y="320.0" font-size="5.6" font-weight="normal" fill="#333" text-anchor="middle" font-family='"Liberation Sans", sans-serif' textLength="17.7" lengthAdjust="spacingAndGlyphs">-0.04</text>
<line x1="286.04" y1="311.4" x2="286.04" y2="313.2" stroke="#888" stroke-width="0.6"/>
<text x="286.04" y="320.0" font-size="5.6" font-weight="normal" fill="#333" text-anchor="middle" font-family='"Liberation Sans", sans-serif' textLength="17.7" lengthAdjust="spacingAndGlyphs">-0.02</text>
<line x1="326.2" y1="311.4" x2="326.2" y2="313.2" stroke="#888" stroke-width="0.6"/>
<text x="326.2" y="320.0" font-size="5.6" font-weight="normal" fill="#333" text-anchor="middle" font-family='"Liberation Sans", sans-serif' textLength="4.1" lengthAdjust="spacingAndGlyphs">0</text>
<line x1="366.36" y1="311.4" x2="366.36" y2="313.2" stroke="#888" stroke-width="0.6"/>
<text x="366.36" y="320.0" font-size="5.6" font-weight="normal" fill="#333" text-anchor="middle" font-family='"Liberation Sans", sans-serif' textLength="14.7" lengthAdjust="spacingAndGlyphs">0.02</text>
<line x1="406.52" y1="311.4" x2="406.52" y2="313.2" stroke="#888" stroke-width="0.6"/>
<text x="406.52" y="320.0" font-size="5.6" font-weight="normal" fill="#333" text-anchor="middle" font-family='"Liberation Sans", sans-serif' textLength="14.7" lengthAdjust="spacingAndGlyphs">0.04</text>
<line x1="446.68" y1="311.4" x2="446.68" y2="313.2" stroke="#888" stroke-width="0.6"/>
<text x="446.68" y="320.0" font-size="5.6" font-weight="normal" fill="#333" text-anchor="middle" font-family='"Liberation Sans", sans-serif' textLength="14.7" lengthAdjust="spacingAndGlyphs">0.06</text>
<line x1="105.32" y1="311.4" x2="105.32" y2="312.6" stroke="#999" stroke-width="0.5"/>
<line x1="145.48" y1="311.4" x2="145.48" y2="312.6" stroke="#999" stroke-width="0.5"/>
<line x1="185.64" y1="311.4" x2="185.64" y2="312.6" stroke="#999" stroke-width="0.5"/>
<line x1="225.8" y1="311.4" x2="225.8" y2="312.6" stroke="#999" stroke-width="0.5"/>
<line x1="265.96" y1="311.4" x2="265.96" y2="312.6" stroke="#999" stroke-width="0.5"/>
<line x1="306.12" y1="311.4" x2="306.12" y2="312.6" stroke="#999" stroke-width="0.5"/>
<line x1="346.28" y1="311.4" x2="346.28" y2="312.6" stroke="#999" stroke-width="0.5"/>
<line x1="386.44" y1="311.4" x2="386.44" y2="312.6" stroke="#999" stroke-width="0.5"/>
<line x1="426.6" y1="311.4" x2="426.6" y2="312.6" stroke="#999" stroke-width="0.5"/>
<line x1="466.76" y1="311.4" x2="466.76" y2="312.6" stroke="#999" stroke-width="0.5"/>
<text x="285.5" y="328.1" font-size="7.4" font-weight="bold" fill="#111" text-anchor="middle" font-family='"Liberation Sans", sans-serif' textLength="89" lengthAdjust="spacingAndGlyphs" stroke="#111" stroke-width="0.22">0.735338 * pq[1]</text>
<text x="59.3" y="245.1" font-size="11.0" font-weight="bold" fill="#111" text-anchor="middle" font-family='"Liberation Sans", sans-serif' textLength="58.6" lengthAdjust="spacingAndGlyphs" transform="rotate(-90 59.3 245.1)" stroke="#111" stroke-width="0.22">0.741944 * poso[1]</text>
<text x="21.9" y="195.0" font-size="12.2" font-weight="bold" fill="#000" text-anchor="start" font-family='"Liberation Serif", serif' textLength="7.0" lengthAdjust="spacingAndGlyphs">C</text>
<ellipse cx="131.80" cy="184.50" rx="4.4" ry="2.8" fill="#46b046" stroke="#2a7d2a" stroke-width="0.75"/>
<ellipse cx="195.50" cy="189.50" rx="4.4" ry="2.8" fill="#46b046" stroke="#2a7d2a" stroke-width="0.75"/>
<ellipse cx="236.00" cy="192.60" rx="4.4" ry="2.8" fill="#46b046" stroke="#2a7d2a" stroke-width="0.75"/>
<ellipse cx="313.60" cy="195.90" rx="4.4" ry="2.8" fill="#46b046" stroke="#2a7d2a" stroke-width="0.75"/>
<ellipse cx="242.60" cy="204.60" rx="4.4" ry="2.8" fill="#46b046" stroke="#2a7d2a" stroke-width="0.75"/>
<ellipse cx="293.10" cy="208.30" rx="4.4" ry="2.8" fill="#46b046" stroke="#2a7d2a" stroke-width="0.75"/>
<ellipse cx="243.50" cy="208.60" rx="4.4" ry="2.8" fill="#46b046" stroke="#2a7d2a" stroke-width="0.75"/>
<ellipse cx="264.00" cy="213.00" rx="4.4" ry="2.8" fill="#46b046" stroke="#2a7d2a" stroke-width="0.75"/>
<ellipse cx="338.20" cy="214.80" rx="4.4" ry="2.8" fill="#46b046" stroke="#2a7d2a" stroke-width="0.75"/>
<ellipse cx="250.30" cy="215.60" rx="4.4" ry="2.8" fill="#46b046" stroke="#2a7d2a" stroke-width="0.75"/>
<ellipse cx="238.10" cy="216.40" rx="4.4" ry="2.8" fill="#46b046" stroke="#2a7d2a" stroke-width="0.75"/>
<ellipse cx="253.30" cy="216.40" rx="4.4" ry="2.8" fill="#46b046" stroke="#2a7d2a" stroke-width="0.75"/>
<ellipse cx="125.60" cy="218.00" rx="4.4" ry="2.8" fill="#46b046" stroke="#2a7d2a" stroke-width="0.75"/>
<ellipse cx="389.50" cy="218.50" rx="4.4" ry="2.8" fill="#46b046" stroke="#2a7d2a" stroke-width="0.75"/>
<ellipse cx="269.60" cy="218.60" rx="4.4" ry="2.8" fill="#46b046" stroke="#2a7d2a" stroke-width="0.75"/>
<ellipse cx="265.90" cy="219.30" rx="4.4" ry="2.8" fill="#46b046" stroke="#2a7d2a" stroke-width="0.75"/>
<ellipse cx="248.80" cy="220.50" rx="4.4" ry="2.8" fill="#46b046" stroke="#2a7d2a" stroke-width="0.75"/>
<ellipse cx="291.10" cy="221.00" rx="4.4" ry="2.8" fill="#46b046" stroke="#2a7d2a" stroke-width="0.75"/>
<ellipse cx="242.10" cy="222.00" rx="4.4" ry="2.8" fill="#46b046" stroke="#2a7d2a" stroke-width="0.75"/>
<ellipse cx="280.70" cy="222.10" rx="4.4" ry="2.8" fill="#46b046" stroke="#2a7d2a" stroke-width="0.75"/>
<ellipse cx="254.80" cy="222.30" rx="4.4" ry="2.8" fill="#46b046" stroke="#2a7d2a" stroke-width="0.75"/>
<ellipse cx="261.50" cy="223.80" rx="4.4" ry="2.8" fill="#46b046" stroke="#2a7d2a" stroke-width="0.75"/>
<ellipse cx="307.70" cy="224.10" rx="4.4" ry="2.8" fill="#46b046" stroke="#2a7d2a" stroke-width="0.75"/>
<ellipse cx="270.40" cy="224.60" rx="4.4" ry="2.8" fill="#46b046" stroke="#2a7d2a" stroke-width="0.75"/>
<ellipse cx="266.70" cy="226.00" rx="4.4" ry="2.8" fill="#46b046" stroke="#2a7d2a" stroke-width="0.75"/>
<ellipse cx="328.90" cy="226.20" rx="4.4" ry="2.8" fill="#46b046" stroke="#2a7d2a" stroke-width="0.75"/>
<ellipse cx="343.10" cy="226.20" rx="4.4" ry="2.8" fill="#46b046" stroke="#2a7d2a" stroke-width="0.75"/>
<ellipse cx="253.30" cy="226.80" rx="4.4" ry="2.8" fill="#46b046" stroke="#2a7d2a" stroke-width="0.75"/>
<ellipse cx="336.40" cy="226.90" rx="4.4" ry="2.8" fill="#46b046" stroke="#2a7d2a" stroke-width="0.75"/>
<ellipse cx="206.00" cy="227.60" rx="4.4" ry="2.8" fill="#46b046" stroke="#2a7d2a" stroke-width="0.75"/>
<ellipse cx="322.60" cy="228.40" rx="4.4" ry="2.8" fill="#46b046" stroke="#2a7d2a" stroke-width="0.75"/>
<ellipse cx="284.00" cy="229.00" rx="4.4" ry="2.8" fill="#46b046" stroke="#2a7d2a" stroke-width="0.75"/>
<ellipse cx="291.00" cy="229.00" rx="4.4" ry="2.8" fill="#46b046" stroke="#2a7d2a" stroke-width="0.75"/>
<ellipse cx="298.00" cy="229.00" rx="4.4" ry="2.8" fill="#46b046" stroke="#2a7d2a" stroke-width="0.75"/>
<ellipse cx="305.00" cy="229.00" rx="4.4" ry="2.8" fill="#46b046" stroke="#2a7d2a" stroke-width="0.75"/>
<ellipse cx="312.00" cy="229.00" rx="4.4" ry="2.8" fill="#46b046" stroke="#2a7d2a" stroke-width="0.75"/>
<ellipse cx="333.00" cy="229.00" rx="4.4" ry="2.8" fill="#46b046" stroke="#2a7d2a" stroke-width="0.75"/>
<ellipse cx="340.00" cy="229.00" rx="4.4" ry="2.8" fill="#46b046" stroke="#2a7d2a" stroke-width="0.75"/>
<ellipse cx="347.00" cy="229.00" rx="4.4" ry="2.8" fill="#46b046" stroke="#2a7d2a" stroke-width="0.75"/>
<ellipse cx="252.50" cy="229.80" rx="4.4" ry="2.8" fill="#46b046" stroke="#2a7d2a" stroke-width="0.75"/>
<ellipse cx="248.80" cy="230.50" rx="4.4" ry="2.8" fill="#46b046" stroke="#2a7d2a" stroke-width="0.75"/>
<ellipse cx="269.60" cy="230.50" rx="4.4" ry="2.8" fill="#46b046" stroke="#2a7d2a" stroke-width="0.75"/>
<ellipse cx="321.50" cy="230.60" rx="4.4" ry="2.8" fill="#46b046" stroke="#2a7d2a" stroke-width="0.75"/>
<ellipse cx="336.40" cy="230.60" rx="4.4" ry="2.8" fill="#46b046" stroke="#2a7d2a" stroke-width="0.75"/>
<ellipse cx="481.50" cy="231.00" rx="4.4" ry="2.8" fill="#46b046" stroke="#2a7d2a" stroke-width="0.75"/>
<ellipse cx="238.10" cy="231.25" rx="4.4" ry="2.8" fill="#46b046" stroke="#2a7d2a" stroke-width="0.75"/>
<ellipse cx="278.00" cy="231.40" rx="4.4" ry="2.8" fill="#46b046" stroke="#2a7d2a" stroke-width="0.75"/>
<ellipse cx="328.90" cy="231.40" rx="4.4" ry="2.8" fill="#46b046" stroke="#2a7d2a" stroke-width="0.75"/>
<ellipse cx="343.80" cy="231.40" rx="4.4" ry="2.8" fill="#46b046" stroke="#2a7d2a" stroke-width="0.75"/>
<ellipse cx="272.60" cy="232.00" rx="4.4" ry="2.8" fill="#46b046" stroke="#2a7d2a" stroke-width="0.75"/>
<ellipse cx="287.50" cy="232.00" rx="4.4" ry="2.8" fill="#46b046" stroke="#2a7d2a" stroke-width="0.75"/>
<ellipse cx="303.50" cy="232.00" rx="4.4" ry="2.8" fill="#46b046" stroke="#2a7d2a" stroke-width="0.75"/>
<ellipse cx="317.50" cy="232.00" rx="4.4" ry="2.8" fill="#46b046" stroke="#2a7d2a" stroke-width="0.75"/>
<ellipse cx="292.90" cy="232.90" rx="4.4" ry="2.8" fill="#46b046" stroke="#2a7d2a" stroke-width="0.75"/>
<ellipse cx="308.50" cy="232.90" rx="4.4" ry="2.8" fill="#46b046" stroke="#2a7d2a" stroke-width="0.75"/>
<ellipse cx="283.90" cy="233.60" rx="4.4" ry="2.8" fill="#46b046" stroke="#2a7d2a" stroke-width="0.75"/>
<ellipse cx="301.00" cy="234.30" rx="4.4" ry="2.8" fill="#46b046" stroke="#2a7d2a" stroke-width="0.75"/>
<ellipse cx="315.20" cy="234.30" rx="4.4" ry="2.8" fill="#46b046" stroke="#2a7d2a" stroke-width="0.75"/>
<ellipse cx="339.30" cy="234.30" rx="4.4" ry="2.8" fill="#46b046" stroke="#2a7d2a" stroke-width="0.75"/>
<ellipse cx="185.20" cy="235.00" rx="4.4" ry="2.8" fill="#46b046" stroke="#2a7d2a" stroke-width="0.75"/>
<ellipse cx="277.00" cy="235.00" rx="4.4" ry="2.8" fill="#46b046" stroke="#2a7d2a" stroke-width="0.75"/>
<ellipse cx="324.50" cy="235.10" rx="4.4" ry="2.8" fill="#46b046" stroke="#2a7d2a" stroke-width="0.75"/>
<ellipse cx="266.70" cy="235.70" rx="4.4" ry="2.8" fill="#46b046" stroke="#2a7d2a" stroke-width="0.75"/>
<ellipse cx="331.90" cy="235.80" rx="4.4" ry="2.8" fill="#46b046" stroke="#2a7d2a" stroke-width="0.75"/>
<ellipse cx="346.00" cy="235.80" rx="4.4" ry="2.8" fill="#46b046" stroke="#2a7d2a" stroke-width="0.75"/>
<ellipse cx="232.50" cy="236.20" rx="4.4" ry="2.8" fill="#46b046" stroke="#2a7d2a" stroke-width="0.75"/>
<ellipse cx="226.90" cy="236.30" rx="4.4" ry="2.8" fill="#46b046" stroke="#2a7d2a" stroke-width="0.75"/>
<ellipse cx="352.00" cy="236.60" rx="4.4" ry="2.8" fill="#46b046" stroke="#2a7d2a" stroke-width="0.75"/>
<ellipse cx="252.50" cy="237.20" rx="4.4" ry="2.8" fill="#46b046" stroke="#2a7d2a" stroke-width="0.75"/>
<ellipse cx="309.20" cy="237.30" rx="4.4" ry="2.8" fill="#46b046" stroke="#2a7d2a" stroke-width="0.75"/>
<ellipse cx="322.60" cy="237.30" rx="4.4" ry="2.8" fill="#46b046" stroke="#2a7d2a" stroke-width="0.75"/>
<ellipse cx="294.30" cy="238.10" rx="4.4" ry="2.8" fill="#46b046" stroke="#2a7d2a" stroke-width="0.75"/>
<ellipse cx="199.00" cy="238.70" rx="4.4" ry="2.8" fill="#46b046" stroke="#2a7d2a" stroke-width="0.75"/>
<ellipse cx="278.00" cy="238.80" rx="4.4" ry="2.8" fill="#46b046" stroke="#2a7d2a" stroke-width="0.75"/>
<ellipse cx="286.20" cy="238.80" rx="4.4" ry="2.8" fill="#46b046" stroke="#2a7d2a" stroke-width="0.75"/>
<ellipse cx="316.70" cy="238.80" rx="4.4" ry="2.8" fill="#46b046" stroke="#2a7d2a" stroke-width="0.75"/>
<ellipse cx="334.90" cy="238.80" rx="4.4" ry="2.8" fill="#46b046" stroke="#2a7d2a" stroke-width="0.75"/>
<ellipse cx="357.20" cy="238.80" rx="4.4" ry="2.8" fill="#46b046" stroke="#2a7d2a" stroke-width="0.75"/>
<ellipse cx="160.90" cy="239.00" rx="4.4" ry="2.8" fill="#46b046" stroke="#2a7d2a" stroke-width="0.75"/>
<ellipse cx="269.60" cy="239.40" rx="4.4" ry="2.8" fill="#46b046" stroke="#2a7d2a" stroke-width="0.75"/>
<ellipse cx="254.50" cy="239.50" rx="4.4" ry="2.8" fill="#46b046" stroke="#2a7d2a" stroke-width="0.75"/>
<ellipse cx="302.50" cy="239.60" rx="4.4" ry="2.8" fill="#46b046" stroke="#2a7d2a" stroke-width="0.75"/>
<ellipse cx="328.20" cy="239.60" rx="4.4" ry="2.8" fill="#46b046" stroke="#2a7d2a" stroke-width="0.75"/>
<ellipse cx="342.30" cy="239.60" rx="4.4" ry="2.8" fill="#46b046" stroke="#2a7d2a" stroke-width="0.75"/>
<ellipse cx="349.80" cy="239.60" rx="4.4" ry="2.8" fill="#46b046" stroke="#2a7d2a" stroke-width="0.75"/>
<ellipse cx="244.00" cy="240.00" rx="4.4" ry="2.8" fill="#46b046" stroke="#2a7d2a" stroke-width="0.75"/>
<ellipse cx="265.00" cy="240.00" rx="4.4" ry="2.8" fill="#46b046" stroke="#2a7d2a" stroke-width="0.75"/>
<ellipse cx="360.20" cy="240.30" rx="4.4" ry="2.8" fill="#46b046" stroke="#2a7d2a" stroke-width="0.75"/>
<ellipse cx="291.00" cy="241.00" rx="4.4" ry="2.8" fill="#46b046" stroke="#2a7d2a" stroke-width="0.75"/>
<ellipse cx="298.00" cy="241.00" rx="4.4" ry="2.8" fill="#46b046" stroke="#2a7d2a" stroke-width="0.75"/>
<ellipse cx="312.00" cy="241.00" rx="4.4" ry="2.8" fill="#46b046" stroke="#2a7d2a" stroke-width="0.75"/>
<ellipse cx="319.00" cy="241.00" rx="4.4" ry="2.8" fill="#46b046" stroke="#2a7d2a" stroke-width="0.75"/>
<ellipse cx="364.60" cy="241.00" rx="4.4" ry="2.8" fill="#46b046" stroke="#2a7d2a" stroke-width="0.75"/>
<ellipse cx="371.30" cy="241.00" rx="4.4" ry="2.8" fill="#46b046" stroke="#2a7d2a" stroke-width="0.75"/>
<ellipse cx="382.70" cy="241.00" rx="4.4" ry="2.8" fill="#46b046" stroke="#2a7d2a" stroke-width="0.75"/>
<ellipse cx="416.00" cy="241.00" rx="4.4" ry="2.8" fill="#46b046" stroke="#2a7d2a" stroke-width="0.75"/>
<ellipse cx="174.50" cy="242.30" rx="4.4" ry="2.8" fill="#46b046" stroke="#2a7d2a" stroke-width="0.75"/>
<ellipse cx="254.00" cy="242.40" rx="4.4" ry="2.8" fill="#46b046" stroke="#2a7d2a" stroke-width="0.75"/>
<ellipse cx="247.50" cy="243.00" rx="4.4" ry="2.8" fill="#46b046" stroke="#2a7d2a" stroke-width="0.75"/>
<ellipse cx="259.20" cy="243.20" rx="4.4" ry="2.8" fill="#46b046" stroke="#2a7d2a" stroke-width="0.75"/>
<ellipse cx="265.20" cy="243.20" rx="4.4" ry="2.8" fill="#46b046" stroke="#2a7d2a" stroke-width="0.75"/>
<ellipse cx="345.30" cy="243.30" rx="4.4" ry="2.8" fill="#46b046" stroke="#2a7d2a" stroke-width="0.75"/>
<ellipse cx="271.50" cy="243.70" rx="4.4" ry="2.8" fill="#46b046" stroke="#2a7d2a" stroke-width="0.75"/>
<ellipse cx="323.00" cy="244.00" rx="4.4" ry="2.8" fill="#46b046" stroke="#2a7d2a" stroke-width="0.75"/>
<ellipse cx="337.90" cy="244.00" rx="4.4" ry="2.8" fill="#46b046" stroke="#2a7d2a" stroke-width="0.75"/>
<ellipse cx="135.80" cy="244.50" rx="4.4" ry="2.8" fill="#46b046" stroke="#2a7d2a" stroke-width="0.75"/>
<ellipse cx="279.60" cy="244.50" rx="4.4" ry="2.8" fill="#46b046" stroke="#2a7d2a" stroke-width="0.75"/>
<ellipse cx="239.10" cy="244.60" rx="4.4" ry="2.8" fill="#46b046" stroke="#2a7d2a" stroke-width="0.75"/>
<ellipse cx="292.10" cy="244.80" rx="4.4" ry="2.8" fill="#46b046" stroke="#2a7d2a" stroke-width="0.75"/>
<ellipse cx="314.40" cy="244.80" rx="4.4" ry="2.8" fill="#46b046" stroke="#2a7d2a" stroke-width="0.75"/>
<ellipse cx="329.70" cy="244.80" rx="4.4" ry="2.8" fill="#46b046" stroke="#2a7d2a" stroke-width="0.75"/>
<ellipse cx="285.40" cy="245.50" rx="4.4" ry="2.8" fill="#46b046" stroke="#2a7d2a" stroke-width="0.75"/>
<ellipse cx="298.80" cy="245.50" rx="4.4" ry="2.8" fill="#46b046" stroke="#2a7d2a" stroke-width="0.75"/>
<ellipse cx="307.00" cy="245.50" rx="4.4" ry="2.8" fill="#46b046" stroke="#2a7d2a" stroke-width="0.75"/>
<ellipse cx="244.00" cy="246.00" rx="4.4" ry="2.8" fill="#46b046" stroke="#2a7d2a" stroke-width="0.75"/>
<ellipse cx="271.10" cy="246.10" rx="4.4" ry="2.8" fill="#46b046" stroke="#2a7d2a" stroke-width="0.75"/>
<ellipse cx="321.10" cy="246.30" rx="4.4" ry="2.8" fill="#46b046" stroke="#2a7d2a" stroke-width="0.75"/>
<ellipse cx="312.00" cy="247.00" rx="4.4" ry="2.8" fill="#46b046" stroke="#2a7d2a" stroke-width="0.75"/>
<ellipse cx="347.00" cy="247.00" rx="4.4" ry="2.8" fill="#46b046" stroke="#2a7d2a" stroke-width="0.75"/>
<ellipse cx="209.60" cy="247.20" rx="4.4" ry="2.8" fill="#46b046" stroke="#2a7d2a" stroke-width="0.75"/>
<ellipse cx="171.30" cy="247.40" rx="4.4" ry="2.8" fill="#46b046" stroke="#2a7d2a" stroke-width="0.75"/>
<ellipse cx="248.80" cy="247.60" rx="4.4" ry="2.8" fill="#46b046" stroke="#2a7d2a" stroke-width="0.75"/>
<ellipse cx="336.40" cy="247.70" rx="4.4" ry="2.8" fill="#46b046" stroke="#2a7d2a" stroke-width="0.75"/>
<ellipse cx="389.50" cy="247.70" rx="4.4" ry="2.8" fill="#46b046" stroke="#2a7d2a" stroke-width="0.75"/>
<ellipse cx="228.00" cy="248.20" rx="4.4" ry="2.8" fill="#46b046" stroke="#2a7d2a" stroke-width="0.75"/>
<ellipse cx="262.20" cy="248.40" rx="4.4" ry="2.8" fill="#46b046" stroke="#2a7d2a" stroke-width="0.75"/>
<ellipse cx="321.50" cy="248.50" rx="4.4" ry="2.8" fill="#46b046" stroke="#2a7d2a" stroke-width="0.75"/>
<ellipse cx="275.20" cy="248.90" rx="4.4" ry="2.8" fill="#46b046" stroke="#2a7d2a" stroke-width="0.75"/>
<ellipse cx="268.50" cy="249.00" rx="4.4" ry="2.8" fill="#46b046" stroke="#2a7d2a" stroke-width="0.75"/>
<ellipse cx="328.20" cy="249.20" rx="4.4" ry="2.8" fill="#46b046" stroke="#2a7d2a" stroke-width="0.75"/>
<ellipse cx="287.50" cy="250.00" rx="4.4" ry="2.8" fill="#46b046" stroke="#2a7d2a" stroke-width="0.75"/>
<ellipse cx="292.90" cy="250.00" rx="4.4" ry="2.8" fill="#46b046" stroke="#2a7d2a" stroke-width="0.75"/>
<ellipse cx="343.50" cy="250.00" rx="4.4" ry="2.8" fill="#46b046" stroke="#2a7d2a" stroke-width="0.75"/>
<ellipse cx="254.30" cy="250.40" rx="4.4" ry="2.8" fill="#46b046" stroke="#2a7d2a" stroke-width="0.75"/>
<ellipse cx="301.80" cy="250.70" rx="4.4" ry="2.8" fill="#46b046" stroke="#2a7d2a" stroke-width="0.75"/>
<ellipse cx="318.20" cy="250.70" rx="4.4" ry="2.8" fill="#46b046" stroke="#2a7d2a" stroke-width="0.75"/>
<ellipse cx="229.90" cy="251.20" rx="4.4" ry="2.8" fill="#46b046" stroke="#2a7d2a" stroke-width="0.75"/>
<ellipse cx="246.90" cy="251.20" rx="4.4" ry="2.8" fill="#46b046" stroke="#2a7d2a" stroke-width="0.75"/>
<ellipse cx="281.10" cy="251.20" rx="4.4" ry="2.8" fill="#46b046" stroke="#2a7d2a" stroke-width="0.75"/>
<ellipse cx="310.00" cy="251.50" rx="4.4" ry="2.8" fill="#46b046" stroke="#2a7d2a" stroke-width="0.75"/>
<ellipse cx="337.90" cy="251.50" rx="4.4" ry="2.8" fill="#46b046" stroke="#2a7d2a" stroke-width="0.75"/>
<ellipse cx="267.00" cy="251.90" rx="4.4" ry="2.8" fill="#46b046" stroke="#2a7d2a" stroke-width="0.75"/>
<ellipse cx="258.00" cy="252.00" rx="4.4" ry="2.8" fill="#46b046" stroke="#2a7d2a" stroke-width="0.75"/>
<ellipse cx="331.90" cy="252.20" rx="4.4" ry="2.8" fill="#46b046" stroke="#2a7d2a" stroke-width="0.75"/>
<ellipse cx="323.00" cy="253.00" rx="4.4" ry="2.8" fill="#46b046" stroke="#2a7d2a" stroke-width="0.75"/>
<ellipse cx="412.70" cy="253.60" rx="4.4" ry="2.8" fill="#46b046" stroke="#2a7d2a" stroke-width="0.75"/>
<ellipse cx="366.50" cy="254.50" rx="4.4" ry="2.8" fill="#46b046" stroke="#2a7d2a" stroke-width="0.75"/>
<ellipse cx="217.50" cy="254.90" rx="4.4" ry="2.8" fill="#46b046" stroke="#2a7d2a" stroke-width="0.75"/>
<ellipse cx="247.50" cy="255.00" rx="4.4" ry="2.8" fill="#46b046" stroke="#2a7d2a" stroke-width="0.75"/>
<ellipse cx="289.50" cy="255.00" rx="4.4" ry="2.8" fill="#46b046" stroke="#2a7d2a" stroke-width="0.75"/>
<ellipse cx="294.30" cy="255.20" rx="4.4" ry="2.8" fill="#46b046" stroke="#2a7d2a" stroke-width="0.75"/>
<ellipse cx="252.90" cy="255.60" rx="4.4" ry="2.8" fill="#46b046" stroke="#2a7d2a" stroke-width="0.75"/>
<ellipse cx="406.30" cy="255.80" rx="4.4" ry="2.8" fill="#46b046" stroke="#2a7d2a" stroke-width="0.75"/>
<ellipse cx="226.50" cy="256.40" rx="4.4" ry="2.8" fill="#46b046" stroke="#2a7d2a" stroke-width="0.75"/>
<ellipse cx="243.20" cy="256.40" rx="4.4" ry="2.8" fill="#46b046" stroke="#2a7d2a" stroke-width="0.75"/>
<ellipse cx="258.80" cy="256.40" rx="4.4" ry="2.8" fill="#46b046" stroke="#2a7d2a" stroke-width="0.75"/>
<ellipse cx="265.50" cy="256.40" rx="4.4" ry="2.8" fill="#46b046" stroke="#2a7d2a" stroke-width="0.75"/>
<ellipse cx="273.00" cy="256.40" rx="4.4" ry="2.8" fill="#46b046" stroke="#2a7d2a" stroke-width="0.75"/>
<ellipse cx="417.60" cy="256.40" rx="4.4" ry="2.8" fill="#46b046" stroke="#2a7d2a" stroke-width="0.75"/>
<ellipse cx="306.30" cy="256.50" rx="4.4" ry="2.8" fill="#46b046" stroke="#2a7d2a" stroke-width="0.75"/>
<ellipse cx="313.00" cy="256.50" rx="4.4" ry="2.8" fill="#46b046" stroke="#2a7d2a" stroke-width="0.75"/>
<ellipse cx="310.70" cy="256.70" rx="4.4" ry="2.8" fill="#46b046" stroke="#2a7d2a" stroke-width="0.75"/>
<ellipse cx="210.10" cy="257.10" rx="4.4" ry="2.8" fill="#46b046" stroke="#2a7d2a" stroke-width="0.75"/>
<ellipse cx="279.60" cy="257.10" rx="4.4" ry="2.8" fill="#46b046" stroke="#2a7d2a" stroke-width="0.75"/>
<ellipse cx="183.30" cy="257.20" rx="4.4" ry="2.8" fill="#46b046" stroke="#2a7d2a" stroke-width="0.75"/>
<ellipse cx="283.90" cy="257.20" rx="4.4" ry="2.8" fill="#46b046" stroke="#2a7d2a" stroke-width="0.75"/>
<ellipse cx="286.90" cy="257.40" rx="4.4" ry="2.8" fill="#46b046" stroke="#2a7d2a" stroke-width="0.75"/>
<ellipse cx="219.80" cy="257.90" rx="4.4" ry="2.8" fill="#46b046" stroke="#2a7d2a" stroke-width="0.75"/>
<ellipse cx="234.60" cy="257.90" rx="4.4" ry="2.8" fill="#46b046" stroke="#2a7d2a" stroke-width="0.75"/>
<ellipse cx="251.00" cy="258.00" rx="4.4" ry="2.8" fill="#46b046" stroke="#2a7d2a" stroke-width="0.75"/>
<ellipse cx="293.00" cy="258.00" rx="4.4" ry="2.8" fill="#46b046" stroke="#2a7d2a" stroke-width="0.75"/>
<ellipse cx="300.00" cy="258.00" rx="4.4" ry="2.8" fill="#46b046" stroke="#2a7d2a" stroke-width="0.75"/>
<ellipse cx="319.60" cy="258.20" rx="4.4" ry="2.8" fill="#46b046" stroke="#2a7d2a" stroke-width="0.75"/>
<ellipse cx="204.90" cy="258.60" rx="4.4" ry="2.8" fill="#46b046" stroke="#2a7d2a" stroke-width="0.75"/>
<ellipse cx="215.50" cy="259.00" rx="4.4" ry="2.8" fill="#46b046" stroke="#2a7d2a" stroke-width="0.75"/>
<ellipse cx="230.20" cy="259.30" rx="4.4" ry="2.8" fill="#46b046" stroke="#2a7d2a" stroke-width="0.75"/>
<ellipse cx="322.90" cy="260.00" rx="4.4" ry="2.8" fill="#46b046" stroke="#2a7d2a" stroke-width="0.75"/>
<ellipse cx="177.30" cy="260.50" rx="4.4" ry="2.8" fill="#46b046" stroke="#2a7d2a" stroke-width="0.75"/>
<ellipse cx="246.20" cy="260.80" rx="4.4" ry="2.8" fill="#46b046" stroke="#2a7d2a" stroke-width="0.75"/>
<ellipse cx="254.30" cy="260.80" rx="4.4" ry="2.8" fill="#46b046" stroke="#2a7d2a" stroke-width="0.75"/>
<ellipse cx="275.50" cy="261.00" rx="4.4" ry="2.8" fill="#46b046" stroke="#2a7d2a" stroke-width="0.75"/>
<ellipse cx="301.80" cy="261.10" rx="4.4" ry="2.8" fill="#46b046" stroke="#2a7d2a" stroke-width="0.75"/>
<ellipse cx="218.30" cy="261.60" rx="4.4" ry="2.8" fill="#46b046" stroke="#2a7d2a" stroke-width="0.75"/>
<ellipse cx="237.60" cy="261.60" rx="4.4" ry="2.8" fill="#46b046" stroke="#2a7d2a" stroke-width="0.75"/>
<ellipse cx="270.70" cy="261.60" rx="4.4" ry="2.8" fill="#46b046" stroke="#2a7d2a" stroke-width="0.75"/>
<ellipse cx="168.20" cy="262.30" rx="4.4" ry="2.8" fill="#46b046" stroke="#2a7d2a" stroke-width="0.75"/>
<ellipse cx="224.20" cy="262.30" rx="4.4" ry="2.8" fill="#46b046" stroke="#2a7d2a" stroke-width="0.75"/>
<ellipse cx="336.00" cy="262.40" rx="4.4" ry="2.8" fill="#46b046" stroke="#2a7d2a" stroke-width="0.75"/>
<ellipse cx="170.60" cy="262.50" rx="4.4" ry="2.8" fill="#46b046" stroke="#2a7d2a" stroke-width="0.75"/>
<ellipse cx="279.50" cy="262.60" rx="4.4" ry="2.8" fill="#46b046" stroke="#2a7d2a" stroke-width="0.75"/>
<ellipse cx="263.30" cy="263.00" rx="4.4" ry="2.8" fill="#46b046" stroke="#2a7d2a" stroke-width="0.75"/>
<ellipse cx="282.60" cy="263.00" rx="4.4" ry="2.8" fill="#46b046" stroke="#2a7d2a" stroke-width="0.75"/>
<ellipse cx="286.20" cy="263.20" rx="4.4" ry="2.8" fill="#46b046" stroke="#2a7d2a" stroke-width="0.75"/>
<ellipse cx="309.20" cy="263.40" rx="4.4" ry="2.8" fill="#46b046" stroke="#2a7d2a" stroke-width="0.75"/>
<ellipse cx="210.80" cy="263.80" rx="4.4" ry="2.8" fill="#46b046" stroke="#2a7d2a" stroke-width="0.75"/>
<ellipse cx="230.20" cy="263.80" rx="4.4" ry="2.8" fill="#46b046" stroke="#2a7d2a" stroke-width="0.75"/>
<ellipse cx="275.90" cy="263.80" rx="4.4" ry="2.8" fill="#46b046" stroke="#2a7d2a" stroke-width="0.75"/>
<ellipse cx="291.40" cy="263.90" rx="4.4" ry="2.8" fill="#46b046" stroke="#2a7d2a" stroke-width="0.75"/>
<ellipse cx="244.00" cy="264.00" rx="4.4" ry="2.8" fill="#46b046" stroke="#2a7d2a" stroke-width="0.75"/>
<ellipse cx="251.00" cy="264.00" rx="4.4" ry="2.8" fill="#46b046" stroke="#2a7d2a" stroke-width="0.75"/>
<ellipse cx="258.00" cy="264.00" rx="4.4" ry="2.8" fill="#46b046" stroke="#2a7d2a" stroke-width="0.75"/>
<ellipse cx="149.50" cy="264.10" rx="4.4" ry="2.8" fill="#46b046" stroke="#2a7d2a" stroke-width="0.75"/>
<ellipse cx="204.90" cy="264.60" rx="4.4" ry="2.8" fill="#46b046" stroke="#2a7d2a" stroke-width="0.75"/>
<ellipse cx="234.60" cy="266.00" rx="4.4" ry="2.8" fill="#46b046" stroke="#2a7d2a" stroke-width="0.75"/>
<ellipse cx="310.70" cy="266.20" rx="4.4" ry="2.8" fill="#46b046" stroke="#2a7d2a" stroke-width="0.75"/>
<ellipse cx="247.50" cy="267.00" rx="4.4" ry="2.8" fill="#46b046" stroke="#2a7d2a" stroke-width="0.75"/>
<ellipse cx="254.50" cy="267.00" rx="4.4" ry="2.8" fill="#46b046" stroke="#2a7d2a" stroke-width="0.75"/>
<ellipse cx="275.50" cy="267.00" rx="4.4" ry="2.8" fill="#46b046" stroke="#2a7d2a" stroke-width="0.75"/>
<ellipse cx="193.00" cy="267.50" rx="4.4" ry="2.8" fill="#46b046" stroke="#2a7d2a" stroke-width="0.75"/>
<ellipse cx="236.50" cy="267.50" rx="4.4" ry="2.8" fill="#46b046" stroke="#2a7d2a" stroke-width="0.75"/>
<ellipse cx="267.00" cy="267.50" rx="4.4" ry="2.8" fill="#46b046" stroke="#2a7d2a" stroke-width="0.75"/>
<ellipse cx="206.40" cy="268.30" rx="4.4" ry="2.8" fill="#46b046" stroke="#2a7d2a" stroke-width="0.75"/>
<ellipse cx="243.20" cy="268.30" rx="4.4" ry="2.8" fill="#46b046" stroke="#2a7d2a" stroke-width="0.75"/>
<ellipse cx="258.80" cy="268.30" rx="4.4" ry="2.8" fill="#46b046" stroke="#2a7d2a" stroke-width="0.75"/>
<ellipse cx="198.90" cy="269.00" rx="4.4" ry="2.8" fill="#46b046" stroke="#2a7d2a" stroke-width="0.75"/>
<ellipse cx="251.40" cy="269.00" rx="4.4" ry="2.8" fill="#46b046" stroke="#2a7d2a" stroke-width="0.75"/>
<ellipse cx="276.70" cy="269.80" rx="4.4" ry="2.8" fill="#46b046" stroke="#2a7d2a" stroke-width="0.75"/>
<ellipse cx="239.00" cy="270.00" rx="4.4" ry="2.8" fill="#46b046" stroke="#2a7d2a" stroke-width="0.75"/>
<ellipse cx="265.00" cy="270.00" rx="4.4" ry="2.8" fill="#46b046" stroke="#2a7d2a" stroke-width="0.75"/>
<ellipse cx="272.00" cy="270.00" rx="4.4" ry="2.8" fill="#46b046" stroke="#2a7d2a" stroke-width="0.75"/>
<ellipse cx="303.10" cy="271.30" rx="4.4" ry="2.8" fill="#46b046" stroke="#2a7d2a" stroke-width="0.75"/>
<ellipse cx="207.10" cy="272.00" rx="4.4" ry="2.8" fill="#46b046" stroke="#2a7d2a" stroke-width="0.75"/>
<ellipse cx="234.60" cy="272.00" rx="4.4" ry="2.8" fill="#46b046" stroke="#2a7d2a" stroke-width="0.75"/>
<ellipse cx="261.00" cy="272.00" rx="4.4" ry="2.8" fill="#46b046" stroke="#2a7d2a" stroke-width="0.75"/>
<ellipse cx="248.40" cy="272.70" rx="4.4" ry="2.8" fill="#46b046" stroke="#2a7d2a" stroke-width="0.75"/>
<ellipse cx="278.20" cy="272.70" rx="4.4" ry="2.8" fill="#46b046" stroke="#2a7d2a" stroke-width="0.75"/>
<ellipse cx="242.50" cy="273.00" rx="4.4" ry="2.8" fill="#46b046" stroke="#2a7d2a" stroke-width="0.75"/>
<ellipse cx="213.10" cy="273.50" rx="4.4" ry="2.8" fill="#46b046" stroke="#2a7d2a" stroke-width="0.75"/>
<ellipse cx="238.00" cy="273.50" rx="4.4" ry="2.8" fill="#46b046" stroke="#2a7d2a" stroke-width="0.75"/>
<ellipse cx="402.50" cy="273.70" rx="4.4" ry="2.8" fill="#46b046" stroke="#2a7d2a" stroke-width="0.75"/>
<ellipse cx="254.30" cy="274.20" rx="4.4" ry="2.8" fill="#46b046" stroke="#2a7d2a" stroke-width="0.75"/>
<ellipse cx="267.70" cy="274.20" rx="4.4" ry="2.8" fill="#46b046" stroke="#2a7d2a" stroke-width="0.75"/>
<ellipse cx="219.80" cy="275.70" rx="4.4" ry="2.8" fill="#46b046" stroke="#2a7d2a" stroke-width="0.75"/>
<ellipse cx="237.60" cy="275.70" rx="4.4" ry="2.8" fill="#46b046" stroke="#2a7d2a" stroke-width="0.75"/>
<ellipse cx="232.00" cy="276.00" rx="4.4" ry="2.8" fill="#46b046" stroke="#2a7d2a" stroke-width="0.75"/>
<ellipse cx="246.00" cy="276.00" rx="4.4" ry="2.8" fill="#46b046" stroke="#2a7d2a" stroke-width="0.75"/>
<ellipse cx="316.00" cy="276.60" rx="4.4" ry="2.8" fill="#46b046" stroke="#2a7d2a" stroke-width="0.75"/>
<ellipse cx="226.50" cy="277.20" rx="4.4" ry="2.8" fill="#46b046" stroke="#2a7d2a" stroke-width="0.75"/>
<ellipse cx="258.80" cy="277.20" rx="4.4" ry="2.8" fill="#46b046" stroke="#2a7d2a" stroke-width="0.75"/>
<ellipse cx="241.70" cy="277.90" rx="4.4" ry="2.8" fill="#46b046" stroke="#2a7d2a" stroke-width="0.75"/>
<ellipse cx="207.30" cy="278.40" rx="4.4" ry="2.8" fill="#46b046" stroke="#2a7d2a" stroke-width="0.75"/>
<ellipse cx="289.10" cy="278.50" rx="4.4" ry="2.8" fill="#46b046" stroke="#2a7d2a" stroke-width="0.75"/>
<ellipse cx="251.40" cy="278.70" rx="4.4" ry="2.8" fill="#46b046" stroke="#2a7d2a" stroke-width="0.75"/>
<ellipse cx="246.25" cy="278.75" rx="4.4" ry="2.8" fill="#46b046" stroke="#2a7d2a" stroke-width="0.75"/>
<ellipse cx="264.80" cy="279.40" rx="4.4" ry="2.8" fill="#46b046" stroke="#2a7d2a" stroke-width="0.75"/>
<ellipse cx="395.70" cy="279.80" rx="4.4" ry="2.8" fill="#46b046" stroke="#2a7d2a" stroke-width="0.75"/>
<ellipse cx="277.40" cy="279.90" rx="4.4" ry="2.8" fill="#46b046" stroke="#2a7d2a" stroke-width="0.75"/>
<ellipse cx="229.40" cy="280.90" rx="4.4" ry="2.8" fill="#46b046" stroke="#2a7d2a" stroke-width="0.75"/>
<ellipse cx="236.10" cy="280.90" rx="4.4" ry="2.8" fill="#46b046" stroke="#2a7d2a" stroke-width="0.75"/>
<ellipse cx="233.10" cy="281.90" rx="4.4" ry="2.8" fill="#46b046" stroke="#2a7d2a" stroke-width="0.75"/>
<ellipse cx="246.00" cy="282.00" rx="4.4" ry="2.8" fill="#46b046" stroke="#2a7d2a" stroke-width="0.75"/>
<ellipse cx="238.40" cy="283.20" rx="4.4" ry="2.8" fill="#46b046" stroke="#2a7d2a" stroke-width="0.75"/>
<ellipse cx="241.70" cy="284.60" rx="4.4" ry="2.8" fill="#46b046" stroke="#2a7d2a" stroke-width="0.75"/>
<ellipse cx="259.60" cy="284.60" rx="4.4" ry="2.8" fill="#46b046" stroke="#2a7d2a" stroke-width="0.75"/>
<ellipse cx="252.10" cy="286.90" rx="4.4" ry="2.8" fill="#46b046" stroke="#2a7d2a" stroke-width="0.75"/>
<ellipse cx="243.60" cy="287.00" rx="4.4" ry="2.8" fill="#46b046" stroke="#2a7d2a" stroke-width="0.75"/>
<ellipse cx="266.30" cy="295.50" rx="4.4" ry="2.8" fill="#46b046" stroke="#2a7d2a" stroke-width="0.75"/>
<ellipse cx="236.60" cy="300.70" rx="4.4" ry="2.8" fill="#46b046" stroke="#2a7d2a" stroke-width="0.75"/>
<text x="103.2" y="181.55" font-size="6.0" font-weight="bold" fill="#111" text-anchor="start" font-family='"Liberation Sans", sans-serif' textLength="36.9" lengthAdjust="spacingAndGlyphs" stroke="#111" stroke-width="0.22">Terpinolene</text>
<text x="206.4" y="187.25" font-size="6.0" font-weight="bold" fill="#111" text-anchor="start" font-family='"Liberation Sans", sans-serif' textLength="57.6" lengthAdjust="spacingAndGlyphs" stroke="#111" stroke-width="0.22">α-ketoglutaric acid</text>
<text x="284.5" y="190.15" font-size="6.0" font-weight="bold" fill="#111" text-anchor="start" font-family='"Liberation Sans", sans-serif' textLength="40.0" lengthAdjust="spacingAndGlyphs" stroke="#111" stroke-width="0.22">Aspartic acid</text>
<text x="195.0" y="211.85" font-size="6.0" font-weight="bold" fill="#111" text-anchor="start" font-family='"Liberation Sans", sans-serif' textLength="42.0" lengthAdjust="spacingAndGlyphs" stroke="#111" stroke-width="0.22">Cinnamic acid</text>
<text x="142.2" y="236.55" font-size="6.0" font-weight="bold" fill="#111" text-anchor="start" font-family='"Liberation Sans", sans-serif' textLength="25.4" lengthAdjust="spacingAndGlyphs" stroke="#111" stroke-width="0.22">Xylulose</text>
<text x="146.7" y="257.05" font-size="6.0" font-weight="bold" fill="#111" text-anchor="start" font-family='"Liberation Sans", sans-serif' textLength="25.1" lengthAdjust="spacingAndGlyphs" stroke="#111" stroke-width="0.22">Maltose</text>
<text x="120.0" y="274.35" font-size="6.0" font-weight="bold" fill="#111" text-anchor="start" font-family='"Liberation Sans", sans-serif' textLength="31.8" lengthAdjust="spacingAndGlyphs" stroke="#111" stroke-width="0.22">Arabinose</text>
<text x="163.6" y="287.15" font-size="6.0" font-weight="bold" fill="#111" text-anchor="start" font-family='"Liberation Sans", sans-serif' textLength="40.0" lengthAdjust="spacingAndGlyphs" stroke="#111" stroke-width="0.22">Stigmasterol</text>
<text x="163.6" y="294.25" font-size="6.0" font-weight="bold" fill="#111" text-anchor="start" font-family='"Liberation Sans", sans-serif' textLength="21.9" lengthAdjust="spacingAndGlyphs" stroke="#111" stroke-width="0.22">Proline</text>
<text x="213.3" y="308.75" font-size="6.0" font-weight="bold" fill="#111" text-anchor="start" font-family='"Liberation Sans", sans-serif' textLength="26.7" lengthAdjust="spacingAndGlyphs" stroke="#111" stroke-width="0.22">Fructose</text>
<text x="284.5" y="287.15" font-size="6.0" font-weight="bold" fill="#111" text-anchor="start" font-family='"Liberation Sans", sans-serif' textLength="26.4" lengthAdjust="spacingAndGlyphs" stroke="#111" stroke-width="0.22">Shikimic</text>
<text x="284.5" y="294.25" font-size="6.0" font-weight="bold" fill="#111" text-anchor="start" font-family='"Liberation Sans", sans-serif' textLength="12.8" lengthAdjust="spacingAndGlyphs" stroke="#111" stroke-width="0.22">acid</text>
<text x="359.6" y="235.25" font-size="6.0" font-weight="bold" fill="#111" text-anchor="start" font-family='"Liberation Sans", sans-serif' textLength="16.8" lengthAdjust="spacingAndGlyphs" stroke="#111" stroke-width="0.22">Malic</text>
<text x="359.6" y="242.35" font-size="6.0" font-weight="bold" fill="#111" text-anchor="start" font-family='"Liberation Sans", sans-serif' textLength="12.2" lengthAdjust="spacingAndGlyphs" stroke="#111" stroke-width="0.22">acid</text>
<text x="393.0" y="251.05" font-size="6.0" font-weight="bold" fill="#111" text-anchor="start" font-family='"Liberation Sans", sans-serif' textLength="31.0" lengthAdjust="spacingAndGlyphs" stroke="#111" stroke-width="0.22">Malic acid</text>
<text x="452.7" y="241.95" font-size="6.0" font-weight="bold" fill="#111" text-anchor="start" font-family='"Liberation Sans", sans-serif' textLength="40.0" lengthAdjust="spacingAndGlyphs" stroke="#111" stroke-width="0.22">Aspartic acid</text>
<text x="350.1" y="270.25" font-size="6.0" font-weight="bold" fill="#111" text-anchor="start" font-family='"Liberation Sans", sans-serif' textLength="19.1" lengthAdjust="spacingAndGlyphs" stroke="#111" stroke-width="0.22">Valine</text>
<line x1="326.5" y1="255.5" x2="352.6" y2="263.1" stroke="#555" stroke-width="0.6"/>
<path d="M353.9 263.5 L349.6 263.9 L350.7 260.6 Z" fill="#555"/>
</svg>
</body></html>
